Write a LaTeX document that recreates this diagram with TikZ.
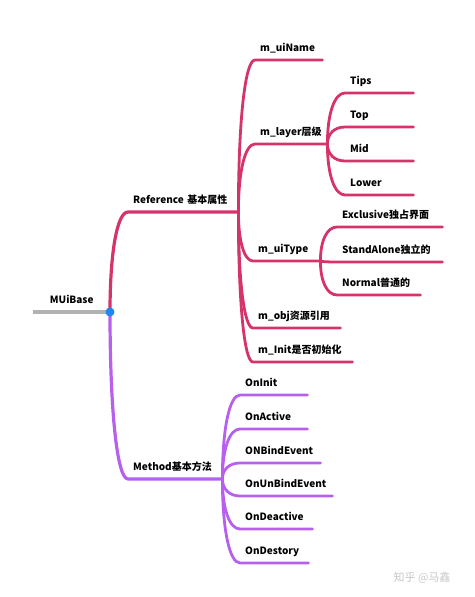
\documentclass[tikz,border=0pt]{standalone}
\usepackage{fontspec}
\setmainfont{Noto Sans CJK SC}
\usetikzlibrary{calc}
\definecolor{br_pink}{RGB}{214, 51, 108}
\definecolor{br_purple}{RGB}{182, 96, 235}
\definecolor{root_gray}{RGB}{178, 178, 178}
\definecolor{hub_blue}{RGB}{30, 136, 240}
\tikzstyle{topic}=[anchor=south west,inner xsep=5pt,inner ysep=5pt,
  text height=8pt,text depth=3pt,align=left,font=\bfseries\fontsize{10}{12}\selectfont]
\tikzstyle{pk}=[draw=br_pink,line width=2.8pt,line cap=round,line join=round]
\tikzstyle{pu}=[draw=br_purple,line width=2.8pt,line cap=round,line join=round]
\tikzstyle{branch}=[to path={.. controls ($(\tikztostart)!0.6!(\tikztostart |- \tikztotarget)$)
  and ($(\tikztotarget)!0.6!(\tikztostart |- \tikztotarget)$) .. (\tikztotarget)}]

\begin{document}
\begin{tikzpicture}[x=1pt,y=1pt]
		\useasboundingbox (0,0) rectangle (474,597);
		\coordinate (hub) at (110,285);
		\node [style=topic, text width=67pt, align=center] (root) at (33,285) {MUiBase};
		% Reference
		\node [style=topic, text width=100pt] (ref) at (128,385) {Reference 基本属性};
		\node [style=topic, text width=57pt] (uiname) at (255,537) {m\_uiName};
		\node [style=topic, text width=62pt] (layer) at (255,453) {m\_layer层级};
		\node [style=topic, text width=58pt] (tips) at (345,504) {Tips};
		\node [style=topic, text width=58pt] (top) at (345,470) {Top};
		\node [style=topic, text width=58pt] (mid) at (345,436) {Mid};
		\node [style=topic, text width=58pt] (lower) at (345,402) {Lower};
		\node [style=topic, text width=57pt] (uitype) at (253,336) {m\_uiType};
		\node [style=topic, text width=95pt] (exclusive) at (337,370) {Exclusive独占界面};
		\node [style=topic, text width=95pt] (standalone) at (337,335) {StandAlone独立的};
		\node [style=topic, text width=73pt] (normal) at (337,302) {Normal普通的};
		\node [style=topic, text width=77pt] (obj) at (253,269) {m\_obj资源引用};
		\node [style=topic, text width=89pt] (init) at (253,235) {m\_Init是否初始化};
		% Method
		\node [style=topic, text width=84pt] (method) at (128,118) {Method基本方法};
		\node [style=topic, text width=57pt] (oninit) at (240,202) {OnInit};
		\node [style=topic, text width=57pt] (onactive) at (240,168) {OnActive};
		\node [style=topic, text width=70pt] (onbind) at (240,134) {ONBindEvent};
		\node [style=topic, text width=82pt] (onunbind) at (240,101) {OnUnBindEvent};
		\node [style=topic, text width=62pt] (ondeactive) at (240,68) {OnDeactive};
		\node [style=topic, text width=58pt] (ondestory) at (240,34) {OnDestory};
		\node [text=black!22, font=\fontsize{11}{13}\selectfont] (mark) at (422,19) {知乎 @马鑫};

		\draw [draw=root_gray, line width=3.4pt] (root.south west) -- (hub);
		\draw [style=pk, line width=3.2pt] (hub) to[branch] (ref.south west) -- (ref.south east);
		\foreach \n in {uiname, layer, uitype, obj, init}
			\draw [style=pk] (ref.south east) to[branch] (\n.south west) -- (\n.south east);
		\foreach \n in {tips, top, mid, lower}
			\draw [style=pk] (layer.south east) to[branch] (\n.south west) -- (\n.south east);
		\foreach \n in {exclusive, standalone, normal}
			\draw [style=pk] (uitype.south east) to[branch] (\n.south west) -- (\n.south east);
		\draw [style=pu, line width=3.2pt] (hub) to[branch] (method.south west) -- (method.south east);
		\foreach \n in {oninit, onactive, onbind, onunbind, ondeactive, ondestory}
			\draw [style=pu] (method.south east) to[branch] (\n.south west) -- (\n.south east);
		\fill [hub_blue] (hub) circle (4.5);
\end{tikzpicture}
\end{document}
